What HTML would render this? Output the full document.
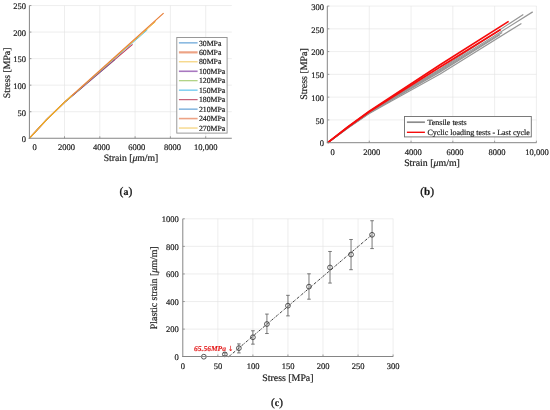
<!DOCTYPE html>
<html><head><meta charset="utf-8"><title>Figure</title>
<style>
html,body{margin:0;padding:0;background:#fff;}
body{width:550px;height:410px;overflow:hidden;}
svg{display:block;font-family:"Liberation Serif", "Times New Roman", serif;text-rendering:geometricPrecision;}
</style></head>
<body>
<svg width="550" height="410" viewBox="0 0 550 410">
<rect width="550" height="410" fill="#fff"/>
<line x1="64.50" y1="5.55" x2="64.50" y2="138.25" stroke="#e3e3e3" stroke-width="0.6" />
<line x1="99.80" y1="5.55" x2="99.80" y2="138.25" stroke="#e3e3e3" stroke-width="0.6" />
<line x1="135.10" y1="5.55" x2="135.10" y2="138.25" stroke="#e3e3e3" stroke-width="0.6" />
<line x1="170.40" y1="5.55" x2="170.40" y2="138.25" stroke="#e3e3e3" stroke-width="0.6" />
<line x1="205.70" y1="5.55" x2="205.70" y2="138.25" stroke="#e3e3e3" stroke-width="0.6" />
<line x1="29.40" y1="111.71" x2="231.80" y2="111.71" stroke="#e3e3e3" stroke-width="0.6" />
<line x1="29.40" y1="85.17" x2="231.80" y2="85.17" stroke="#e3e3e3" stroke-width="0.6" />
<line x1="29.40" y1="58.63" x2="231.80" y2="58.63" stroke="#e3e3e3" stroke-width="0.6" />
<line x1="29.40" y1="32.09" x2="231.80" y2="32.09" stroke="#e3e3e3" stroke-width="0.6" />
<line x1="29.40" y1="5.55" x2="231.80" y2="5.55" stroke="#e3e3e3" stroke-width="0.6" />
<polyline points="29.40,138.25 46.85,119.41 64.50,102.31 84.50,85.60" fill="none" stroke="#7fbf4a" stroke-width="1.0" stroke-linejoin="round" stroke-linecap="butt" />
<polyline points="29.40,138.25 46.85,119.41 64.50,102.34 100.00,71.50" fill="none" stroke="#a070c0" stroke-width="1.0" stroke-linejoin="round" stroke-linecap="butt" />
<polyline points="29.40,138.25 46.85,119.41 64.50,102.37 114.90,59.60" fill="none" stroke="#3d8fd0" stroke-width="1.1" stroke-linejoin="round" stroke-linecap="butt" />
<polyline points="29.40,138.25 46.85,119.41 64.50,102.40 132.60,44.40" fill="none" stroke="#c23a5a" stroke-width="1.1" stroke-linejoin="round" stroke-linecap="butt" />
<polyline points="29.40,138.25 46.85,119.41 64.50,102.34 147.40,29.90" fill="none" stroke="#5cc0e6" stroke-width="0.95" stroke-linejoin="round" stroke-linecap="butt" />
<polyline points="29.40,138.25 46.85,119.41 64.50,102.25 155.60,21.60" fill="none" stroke="#eebb30" stroke-width="1.0" stroke-linejoin="round" stroke-linecap="butt" />
<polyline points="29.40,138.25 46.85,119.41 64.50,102.16 163.60,13.10" fill="none" stroke="#e8803a" stroke-width="1.25" stroke-linejoin="round" stroke-linecap="butt" />
<polyline points="29.40,138.25 46.85,119.41 71.56,95.62" fill="none" stroke="#f0b428" stroke-width="1.1" stroke-linejoin="round" stroke-linecap="butt" />
<line x1="29.40" y1="5.55" x2="29.40" y2="138.75" stroke="#858585" stroke-width="1" />
<line x1="28.90" y1="138.25" x2="231.80" y2="138.25" stroke="#858585" stroke-width="1" />
<line x1="64.50" y1="138.25" x2="64.50" y2="136.25" stroke="#858585" stroke-width="0.8" />
<line x1="99.80" y1="138.25" x2="99.80" y2="136.25" stroke="#858585" stroke-width="0.8" />
<line x1="135.10" y1="138.25" x2="135.10" y2="136.25" stroke="#858585" stroke-width="0.8" />
<line x1="170.40" y1="138.25" x2="170.40" y2="136.25" stroke="#858585" stroke-width="0.8" />
<line x1="205.70" y1="138.25" x2="205.70" y2="136.25" stroke="#858585" stroke-width="0.8" />
<line x1="29.40" y1="111.71" x2="31.40" y2="111.71" stroke="#858585" stroke-width="0.8" />
<line x1="29.40" y1="85.17" x2="31.40" y2="85.17" stroke="#858585" stroke-width="0.8" />
<line x1="29.40" y1="58.63" x2="31.40" y2="58.63" stroke="#858585" stroke-width="0.8" />
<line x1="29.40" y1="32.09" x2="31.40" y2="32.09" stroke="#858585" stroke-width="0.8" />
<line x1="29.40" y1="5.55" x2="31.40" y2="5.55" stroke="#858585" stroke-width="0.8" />
<text x="26.00" y="142.04" font-size="8.5" text-anchor="end" fill="#1e1e1e" stroke="#1e1e1e" stroke-width="0.2" >0</text>
<text x="26.00" y="115.50" font-size="8.5" text-anchor="end" fill="#1e1e1e" stroke="#1e1e1e" stroke-width="0.2" >50</text>
<text x="26.00" y="88.96" font-size="8.5" text-anchor="end" fill="#1e1e1e" stroke="#1e1e1e" stroke-width="0.2" >100</text>
<text x="26.00" y="62.42" font-size="8.5" text-anchor="end" fill="#1e1e1e" stroke="#1e1e1e" stroke-width="0.2" >150</text>
<text x="26.00" y="35.88" font-size="8.5" text-anchor="end" fill="#1e1e1e" stroke="#1e1e1e" stroke-width="0.2" >200</text>
<text x="26.00" y="9.34" font-size="8.5" text-anchor="end" fill="#1e1e1e" stroke="#1e1e1e" stroke-width="0.2" >250</text>
<text x="34.70" y="149.89" font-size="8.5" text-anchor="middle" fill="#1e1e1e" stroke="#1e1e1e" stroke-width="0.2" >0</text>
<text x="66.50" y="149.89" font-size="8.5" text-anchor="middle" fill="#1e1e1e" stroke="#1e1e1e" stroke-width="0.2" >2000</text>
<text x="101.40" y="149.89" font-size="8.5" text-anchor="middle" fill="#1e1e1e" stroke="#1e1e1e" stroke-width="0.2" >4000</text>
<text x="136.80" y="149.89" font-size="8.5" text-anchor="middle" fill="#1e1e1e" stroke="#1e1e1e" stroke-width="0.2" >6000</text>
<text x="172.50" y="149.89" font-size="8.5" text-anchor="middle" fill="#1e1e1e" stroke="#1e1e1e" stroke-width="0.2" >8000</text>
<text x="205.70" y="149.89" font-size="8.5" text-anchor="middle" fill="#1e1e1e" stroke="#1e1e1e" stroke-width="0.2" >10,000</text>
<text x="131.00" y="160.90" font-size="9.7" text-anchor="middle" fill="#1e1e1e" stroke="#1e1e1e" stroke-width="0.2" >Strain [<tspan font-style="italic">μ</tspan>m/m]</text>
<text transform="translate(10.12,72.90) rotate(-90)" font-size="9.75" text-anchor="middle" fill="#1e1e1e" stroke="#1e1e1e" stroke-width="0.2">Stress [MPa]</text>
<rect x="176.8" y="37.5" width="50.3" height="95.6" fill="#fff" stroke="#8e8e8e" stroke-width="0.9"/>
<line x1="178.90" y1="42.90" x2="197.60" y2="42.90" stroke="#2f82c8" stroke-width="0.9" />
<text x="198.90" y="45.55" font-size="7.8" text-anchor="start" fill="#1e1e1e" stroke="#1e1e1e" stroke-width="0.2" >30MPa</text>
<line x1="178.90" y1="52.36" x2="197.60" y2="52.36" stroke="#eda385" stroke-width="2.2" />
<text x="198.90" y="55.01" font-size="7.8" text-anchor="start" fill="#1e1e1e" stroke="#1e1e1e" stroke-width="0.2" >60MPa</text>
<line x1="178.90" y1="61.82" x2="197.60" y2="61.82" stroke="#f0c24a" stroke-width="0.9" />
<text x="198.90" y="64.47" font-size="7.8" text-anchor="start" fill="#1e1e1e" stroke="#1e1e1e" stroke-width="0.2" >80MPa</text>
<line x1="178.90" y1="71.28" x2="197.60" y2="71.28" stroke="#a878c0" stroke-width="1.6" />
<text x="198.90" y="73.93" font-size="7.8" text-anchor="start" fill="#1e1e1e" stroke="#1e1e1e" stroke-width="0.2" >100MPa</text>
<line x1="178.90" y1="80.74" x2="197.60" y2="80.74" stroke="#8ec050" stroke-width="0.9" />
<text x="198.90" y="83.39" font-size="7.8" text-anchor="start" fill="#1e1e1e" stroke="#1e1e1e" stroke-width="0.2" >120MPa</text>
<line x1="178.90" y1="90.20" x2="197.60" y2="90.20" stroke="#86d2f2" stroke-width="1.6" />
<text x="198.90" y="92.85" font-size="7.8" text-anchor="start" fill="#1e1e1e" stroke="#1e1e1e" stroke-width="0.2" >150MPa</text>
<line x1="178.90" y1="99.66" x2="197.60" y2="99.66" stroke="#c0506a" stroke-width="1.1" />
<text x="198.90" y="102.31" font-size="7.8" text-anchor="start" fill="#1e1e1e" stroke="#1e1e1e" stroke-width="0.2" >180MPa</text>
<line x1="178.90" y1="109.12" x2="197.60" y2="109.12" stroke="#2f82c8" stroke-width="0.9" />
<text x="198.90" y="111.77" font-size="7.8" text-anchor="start" fill="#1e1e1e" stroke="#1e1e1e" stroke-width="0.2" >210MPa</text>
<line x1="178.90" y1="118.58" x2="197.60" y2="118.58" stroke="#eda385" stroke-width="1.6" />
<text x="198.90" y="121.23" font-size="7.8" text-anchor="start" fill="#1e1e1e" stroke="#1e1e1e" stroke-width="0.2" >240MPa</text>
<line x1="178.90" y1="128.04" x2="197.60" y2="128.04" stroke="#f0c24a" stroke-width="0.9" />
<text x="198.90" y="130.69" font-size="7.8" text-anchor="start" fill="#1e1e1e" stroke="#1e1e1e" stroke-width="0.2" >270MPa</text>
<text x="119.60" y="195.10" font-size="11.6" fill="#141414" stroke="#141414" stroke-width="0.3">(</text>
<text x="123.46" y="194.80" font-size="9.9" font-weight="bold" fill="#141414" stroke="#141414" stroke-width="0.15">a</text>
<text x="128.41" y="195.10" font-size="11.6" fill="#141414" stroke="#141414" stroke-width="0.3">)</text>
<line x1="369.28" y1="6.05" x2="369.28" y2="142.70" stroke="#e3e3e3" stroke-width="0.6" />
<line x1="411.06" y1="6.05" x2="411.06" y2="142.70" stroke="#e3e3e3" stroke-width="0.6" />
<line x1="452.84" y1="6.05" x2="452.84" y2="142.70" stroke="#e3e3e3" stroke-width="0.6" />
<line x1="494.62" y1="6.05" x2="494.62" y2="142.70" stroke="#e3e3e3" stroke-width="0.6" />
<line x1="536.40" y1="6.05" x2="536.40" y2="142.70" stroke="#e3e3e3" stroke-width="0.6" />
<line x1="327.30" y1="119.92" x2="536.50" y2="119.92" stroke="#e3e3e3" stroke-width="0.6" />
<line x1="327.30" y1="97.15" x2="536.50" y2="97.15" stroke="#e3e3e3" stroke-width="0.6" />
<line x1="327.30" y1="74.37" x2="536.50" y2="74.37" stroke="#e3e3e3" stroke-width="0.6" />
<line x1="327.30" y1="51.60" x2="536.50" y2="51.60" stroke="#e3e3e3" stroke-width="0.6" />
<line x1="327.30" y1="28.82" x2="536.50" y2="28.82" stroke="#e3e3e3" stroke-width="0.6" />
<line x1="327.30" y1="6.05" x2="536.50" y2="6.05" stroke="#e3e3e3" stroke-width="0.6" />
<polyline points="327.70,142.70 348.39,127.69 369.28,113.55 390.17,101.75 440.14,73.92 521.40,23.40" fill="none" stroke="#969696" stroke-width="1.2" stroke-linejoin="round" stroke-linecap="butt" />
<polyline points="327.70,142.70 348.39,127.45 369.28,113.09 390.17,100.82 440.14,71.87 499.84,34.75" fill="none" stroke="#969696" stroke-width="1.2" stroke-linejoin="round" stroke-linecap="butt" />
<polyline points="327.70,142.70 348.39,127.33 369.28,112.86 390.17,100.32 440.14,70.73 502.22,32.51" fill="none" stroke="#969696" stroke-width="1.2" stroke-linejoin="round" stroke-linecap="butt" />
<polyline points="327.70,142.70 348.39,127.22 369.28,112.64 390.17,99.89 440.14,69.82 532.70,11.88" fill="none" stroke="#969696" stroke-width="1.2" stroke-linejoin="round" stroke-linecap="butt" />
<polyline points="327.70,142.70 348.39,126.98 369.28,112.18 390.17,99.30 440.14,68.91 523.30,14.39" fill="none" stroke="#969696" stroke-width="1.2" stroke-linejoin="round" stroke-linecap="butt" />
<polyline points="327.70,142.70 348.39,126.75 369.28,111.73 390.17,98.43 440.14,67.09 500.70,29.51" fill="none" stroke="#f50c0c" stroke-width="1.7" stroke-linejoin="round" stroke-linecap="butt" />
<polyline points="327.70,142.70 348.39,126.51 369.28,111.27 390.17,97.44 440.14,64.81 508.62,21.40" fill="none" stroke="#f50c0c" stroke-width="1.7" stroke-linejoin="round" stroke-linecap="butt" />
<line x1="327.30" y1="6.05" x2="327.30" y2="143.20" stroke="#858585" stroke-width="1" />
<line x1="326.80" y1="142.70" x2="536.50" y2="142.70" stroke="#858585" stroke-width="1" />
<line x1="369.28" y1="142.70" x2="369.28" y2="140.70" stroke="#858585" stroke-width="0.8" />
<line x1="411.06" y1="142.70" x2="411.06" y2="140.70" stroke="#858585" stroke-width="0.8" />
<line x1="452.84" y1="142.70" x2="452.84" y2="140.70" stroke="#858585" stroke-width="0.8" />
<line x1="494.62" y1="142.70" x2="494.62" y2="140.70" stroke="#858585" stroke-width="0.8" />
<line x1="536.40" y1="142.70" x2="536.40" y2="140.70" stroke="#858585" stroke-width="0.8" />
<line x1="327.30" y1="119.92" x2="329.30" y2="119.92" stroke="#858585" stroke-width="0.8" />
<line x1="327.30" y1="97.15" x2="329.30" y2="97.15" stroke="#858585" stroke-width="0.8" />
<line x1="327.30" y1="74.37" x2="329.30" y2="74.37" stroke="#858585" stroke-width="0.8" />
<line x1="327.30" y1="51.60" x2="329.30" y2="51.60" stroke="#858585" stroke-width="0.8" />
<line x1="327.30" y1="28.82" x2="329.30" y2="28.82" stroke="#858585" stroke-width="0.8" />
<line x1="327.30" y1="6.05" x2="329.30" y2="6.05" stroke="#858585" stroke-width="0.8" />
<text x="323.90" y="146.49" font-size="8.5" text-anchor="end" fill="#1e1e1e" stroke="#1e1e1e" stroke-width="0.2" >0</text>
<text x="323.90" y="123.71" font-size="8.5" text-anchor="end" fill="#1e1e1e" stroke="#1e1e1e" stroke-width="0.2" >50</text>
<text x="323.90" y="100.94" font-size="8.5" text-anchor="end" fill="#1e1e1e" stroke="#1e1e1e" stroke-width="0.2" >100</text>
<text x="323.90" y="78.16" font-size="8.5" text-anchor="end" fill="#1e1e1e" stroke="#1e1e1e" stroke-width="0.2" >150</text>
<text x="323.90" y="55.39" font-size="8.5" text-anchor="end" fill="#1e1e1e" stroke="#1e1e1e" stroke-width="0.2" >200</text>
<text x="323.90" y="32.61" font-size="8.5" text-anchor="end" fill="#1e1e1e" stroke="#1e1e1e" stroke-width="0.2" >250</text>
<text x="323.90" y="9.84" font-size="8.5" text-anchor="end" fill="#1e1e1e" stroke="#1e1e1e" stroke-width="0.2" >300</text>
<text x="332.70" y="154.59" font-size="8.5" text-anchor="middle" fill="#1e1e1e" stroke="#1e1e1e" stroke-width="0.2" >0</text>
<text x="371.70" y="154.59" font-size="8.5" text-anchor="middle" fill="#1e1e1e" stroke="#1e1e1e" stroke-width="0.2" >2000</text>
<text x="413.20" y="154.59" font-size="8.5" text-anchor="middle" fill="#1e1e1e" stroke="#1e1e1e" stroke-width="0.2" >4000</text>
<text x="454.90" y="154.59" font-size="8.5" text-anchor="middle" fill="#1e1e1e" stroke="#1e1e1e" stroke-width="0.2" >6000</text>
<text x="497.00" y="154.59" font-size="8.5" text-anchor="middle" fill="#1e1e1e" stroke="#1e1e1e" stroke-width="0.2" >8000</text>
<text x="537.00" y="154.59" font-size="8.5" text-anchor="middle" fill="#1e1e1e" stroke="#1e1e1e" stroke-width="0.2" >10,000</text>
<text x="432.00" y="165.77" font-size="9.9" text-anchor="middle" fill="#1e1e1e" stroke="#1e1e1e" stroke-width="0.2" >Strain [<tspan font-style="italic">μ</tspan>m/m]</text>
<text transform="translate(306.69,74.00) rotate(-90)" font-size="9.95" text-anchor="middle" fill="#1e1e1e" stroke="#1e1e1e" stroke-width="0.2">Stress [MPa]</text>
<rect x="404.5" y="116.5" width="126.8" height="20.4" fill="#fff" stroke="#747474" stroke-width="0.95"/>
<line x1="406.90" y1="122.20" x2="424.90" y2="122.20" stroke="#8c8c8c" stroke-width="1.7" />
<text x="427.40" y="124.92" font-size="8.0" text-anchor="start" fill="#1e1e1e" stroke="#1e1e1e" stroke-width="0.2" >Tensile tests</text>
<line x1="406.90" y1="132.30" x2="424.90" y2="132.30" stroke="#f50c0c" stroke-width="1.4" />
<text x="427.40" y="135.02" font-size="8.0" text-anchor="start" fill="#1e1e1e" stroke="#1e1e1e" stroke-width="0.2" >Cyclic loading tests - Last cycle</text>
<text x="420.20" y="195.10" font-size="11.6" fill="#141414" stroke="#141414" stroke-width="0.3">(</text>
<text x="424.06" y="194.80" font-size="11.1" font-weight="bold" fill="#141414" stroke="#141414" stroke-width="0.15">b</text>
<text x="430.23" y="195.10" font-size="11.6" fill="#141414" stroke="#141414" stroke-width="0.3">)</text>
<line x1="217.85" y1="218.80" x2="217.85" y2="356.50" stroke="#e3e3e3" stroke-width="0.6" />
<line x1="252.90" y1="218.80" x2="252.90" y2="356.50" stroke="#e3e3e3" stroke-width="0.6" />
<line x1="287.95" y1="218.80" x2="287.95" y2="356.50" stroke="#e3e3e3" stroke-width="0.6" />
<line x1="323.00" y1="218.80" x2="323.00" y2="356.50" stroke="#e3e3e3" stroke-width="0.6" />
<line x1="358.05" y1="218.80" x2="358.05" y2="356.50" stroke="#e3e3e3" stroke-width="0.6" />
<line x1="393.10" y1="218.80" x2="393.10" y2="356.50" stroke="#e3e3e3" stroke-width="0.6" />
<line x1="182.80" y1="329.12" x2="393.20" y2="329.12" stroke="#e3e3e3" stroke-width="0.6" />
<line x1="182.80" y1="301.54" x2="393.20" y2="301.54" stroke="#e3e3e3" stroke-width="0.6" />
<line x1="182.80" y1="273.96" x2="393.20" y2="273.96" stroke="#e3e3e3" stroke-width="0.6" />
<line x1="182.80" y1="246.38" x2="393.20" y2="246.38" stroke="#e3e3e3" stroke-width="0.6" />
<line x1="182.80" y1="218.80" x2="393.20" y2="218.80" stroke="#e3e3e3" stroke-width="0.6" />
<line x1="228.76" y1="356.70" x2="372.07" y2="234.66" stroke="#1a1a1a" stroke-width="0.85" stroke-dasharray="2.6 1.1 0.8 1.1"/>
<circle cx="203.83" cy="356.70" r="2.4" fill="none" stroke="#3a3a3a" stroke-width="0.85"/>
<line x1="224.86" y1="355.60" x2="224.86" y2="352.84" stroke="#6a6a6a" stroke-width="0.9" />
<line x1="223.06" y1="355.60" x2="226.66" y2="355.60" stroke="#6a6a6a" stroke-width="0.9" />
<line x1="223.06" y1="352.84" x2="226.66" y2="352.84" stroke="#6a6a6a" stroke-width="0.9" />
<circle cx="224.86" cy="354.36" r="2.4" fill="none" stroke="#3a3a3a" stroke-width="0.85"/>
<line x1="238.88" y1="352.91" x2="238.88" y2="343.90" stroke="#6a6a6a" stroke-width="0.9" />
<line x1="237.08" y1="352.91" x2="240.68" y2="352.91" stroke="#6a6a6a" stroke-width="0.9" />
<line x1="237.08" y1="343.90" x2="240.68" y2="343.90" stroke="#6a6a6a" stroke-width="0.9" />
<circle cx="238.88" cy="348.15" r="2.4" fill="none" stroke="#3a3a3a" stroke-width="0.85"/>
<line x1="252.90" y1="344.15" x2="252.90" y2="330.77" stroke="#6a6a6a" stroke-width="0.9" />
<line x1="251.10" y1="344.15" x2="254.70" y2="344.15" stroke="#6a6a6a" stroke-width="0.9" />
<line x1="251.10" y1="330.77" x2="254.70" y2="330.77" stroke="#6a6a6a" stroke-width="0.9" />
<circle cx="252.90" cy="337.26" r="2.4" fill="none" stroke="#3a3a3a" stroke-width="0.85"/>
<line x1="266.92" y1="333.53" x2="266.92" y2="314.09" stroke="#6a6a6a" stroke-width="0.9" />
<line x1="265.12" y1="333.53" x2="268.72" y2="333.53" stroke="#6a6a6a" stroke-width="0.9" />
<line x1="265.12" y1="314.09" x2="268.72" y2="314.09" stroke="#6a6a6a" stroke-width="0.9" />
<circle cx="266.92" cy="324.02" r="2.4" fill="none" stroke="#3a3a3a" stroke-width="0.85"/>
<line x1="287.95" y1="315.88" x2="287.95" y2="295.33" stroke="#6a6a6a" stroke-width="0.9" />
<line x1="286.15" y1="315.88" x2="289.75" y2="315.88" stroke="#6a6a6a" stroke-width="0.9" />
<line x1="286.15" y1="295.33" x2="289.75" y2="295.33" stroke="#6a6a6a" stroke-width="0.9" />
<circle cx="287.95" cy="305.68" r="2.4" fill="none" stroke="#3a3a3a" stroke-width="0.85"/>
<line x1="308.98" y1="299.20" x2="308.98" y2="273.82" stroke="#6a6a6a" stroke-width="0.9" />
<line x1="307.18" y1="299.20" x2="310.78" y2="299.20" stroke="#6a6a6a" stroke-width="0.9" />
<line x1="307.18" y1="273.82" x2="310.78" y2="273.82" stroke="#6a6a6a" stroke-width="0.9" />
<circle cx="308.98" cy="286.65" r="2.4" fill="none" stroke="#3a3a3a" stroke-width="0.85"/>
<line x1="330.01" y1="283.06" x2="330.01" y2="251.48" stroke="#6a6a6a" stroke-width="0.9" />
<line x1="328.21" y1="283.06" x2="331.81" y2="283.06" stroke="#6a6a6a" stroke-width="0.9" />
<line x1="328.21" y1="251.48" x2="331.81" y2="251.48" stroke="#6a6a6a" stroke-width="0.9" />
<circle cx="330.01" cy="267.48" r="2.4" fill="none" stroke="#3a3a3a" stroke-width="0.85"/>
<line x1="351.04" y1="269.69" x2="351.04" y2="239.49" stroke="#6a6a6a" stroke-width="0.9" />
<line x1="349.24" y1="269.69" x2="352.84" y2="269.69" stroke="#6a6a6a" stroke-width="0.9" />
<line x1="349.24" y1="239.49" x2="352.84" y2="239.49" stroke="#6a6a6a" stroke-width="0.9" />
<circle cx="351.04" cy="254.52" r="2.4" fill="none" stroke="#3a3a3a" stroke-width="0.85"/>
<line x1="372.07" y1="248.59" x2="372.07" y2="220.73" stroke="#6a6a6a" stroke-width="0.9" />
<line x1="370.27" y1="248.59" x2="373.87" y2="248.59" stroke="#6a6a6a" stroke-width="0.9" />
<line x1="370.27" y1="220.73" x2="373.87" y2="220.73" stroke="#6a6a6a" stroke-width="0.9" />
<circle cx="372.07" cy="234.80" r="2.4" fill="none" stroke="#3a3a3a" stroke-width="0.85"/>
<line x1="182.80" y1="218.80" x2="182.80" y2="357.00" stroke="#858585" stroke-width="1" />
<line x1="182.30" y1="356.50" x2="393.20" y2="356.50" stroke="#858585" stroke-width="1" />
<line x1="217.85" y1="356.50" x2="217.85" y2="354.50" stroke="#858585" stroke-width="0.8" />
<line x1="252.90" y1="356.50" x2="252.90" y2="354.50" stroke="#858585" stroke-width="0.8" />
<line x1="287.95" y1="356.50" x2="287.95" y2="354.50" stroke="#858585" stroke-width="0.8" />
<line x1="323.00" y1="356.50" x2="323.00" y2="354.50" stroke="#858585" stroke-width="0.8" />
<line x1="358.05" y1="356.50" x2="358.05" y2="354.50" stroke="#858585" stroke-width="0.8" />
<line x1="393.10" y1="356.50" x2="393.10" y2="354.50" stroke="#858585" stroke-width="0.8" />
<line x1="182.80" y1="329.12" x2="184.80" y2="329.12" stroke="#858585" stroke-width="0.8" />
<line x1="182.80" y1="301.54" x2="184.80" y2="301.54" stroke="#858585" stroke-width="0.8" />
<line x1="182.80" y1="273.96" x2="184.80" y2="273.96" stroke="#858585" stroke-width="0.8" />
<line x1="182.80" y1="246.38" x2="184.80" y2="246.38" stroke="#858585" stroke-width="0.8" />
<line x1="182.80" y1="218.80" x2="184.80" y2="218.80" stroke="#858585" stroke-width="0.8" />
<text x="178.80" y="359.89" font-size="8.5" text-anchor="end" fill="#1e1e1e" stroke="#1e1e1e" stroke-width="0.2" >0</text>
<text x="178.80" y="332.31" font-size="8.5" text-anchor="end" fill="#1e1e1e" stroke="#1e1e1e" stroke-width="0.2" >200</text>
<text x="178.80" y="304.73" font-size="8.5" text-anchor="end" fill="#1e1e1e" stroke="#1e1e1e" stroke-width="0.2" >400</text>
<text x="178.80" y="277.15" font-size="8.5" text-anchor="end" fill="#1e1e1e" stroke="#1e1e1e" stroke-width="0.2" >600</text>
<text x="178.80" y="249.57" font-size="8.5" text-anchor="end" fill="#1e1e1e" stroke="#1e1e1e" stroke-width="0.2" >800</text>
<text x="178.80" y="221.99" font-size="8.5" text-anchor="end" fill="#1e1e1e" stroke="#1e1e1e" stroke-width="0.2" >1000</text>
<text x="182.90" y="368.69" font-size="8.5" text-anchor="middle" fill="#1e1e1e" stroke="#1e1e1e" stroke-width="0.2" >0</text>
<text x="217.95" y="368.69" font-size="8.5" text-anchor="middle" fill="#1e1e1e" stroke="#1e1e1e" stroke-width="0.2" >50</text>
<text x="253.00" y="368.69" font-size="8.5" text-anchor="middle" fill="#1e1e1e" stroke="#1e1e1e" stroke-width="0.2" >100</text>
<text x="288.05" y="368.69" font-size="8.5" text-anchor="middle" fill="#1e1e1e" stroke="#1e1e1e" stroke-width="0.2" >150</text>
<text x="323.10" y="368.69" font-size="8.5" text-anchor="middle" fill="#1e1e1e" stroke="#1e1e1e" stroke-width="0.2" >200</text>
<text x="358.15" y="368.69" font-size="8.5" text-anchor="middle" fill="#1e1e1e" stroke="#1e1e1e" stroke-width="0.2" >250</text>
<text x="393.20" y="368.69" font-size="8.5" text-anchor="middle" fill="#1e1e1e" stroke="#1e1e1e" stroke-width="0.2" >300</text>
<text x="287.90" y="380.67" font-size="9.9" text-anchor="middle" fill="#1e1e1e" stroke="#1e1e1e" stroke-width="0.2" >Stress [MPa]</text>
<text transform="translate(157.27,287.80) rotate(-90)" font-size="9.9" text-anchor="middle" fill="#1e1e1e" stroke="#1e1e1e" stroke-width="0.2">Plastic strain [<tspan font-style="italic">μ</tspan>m/m]</text>
<text x="194.00" y="350.65" font-size="7.5" text-anchor="start" fill="#e41e1e" stroke="#e41e1e" stroke-width="0.1" font-style="italic" font-weight="bold">65.56MPa <tspan font-family="DejaVu Sans" font-style="normal" font-weight="normal" font-size="7">↓</tspan></text>
<text x="271.00" y="405.80" font-size="11.1" fill="#141414" stroke="#141414" stroke-width="0.3">(</text>
<text x="274.70" y="405.50" font-size="10.0" font-weight="bold" fill="#141414" stroke="#141414" stroke-width="0.15">c</text>
<text x="279.14" y="405.80" font-size="11.1" fill="#141414" stroke="#141414" stroke-width="0.3">)</text>
</svg>
</body></html>
